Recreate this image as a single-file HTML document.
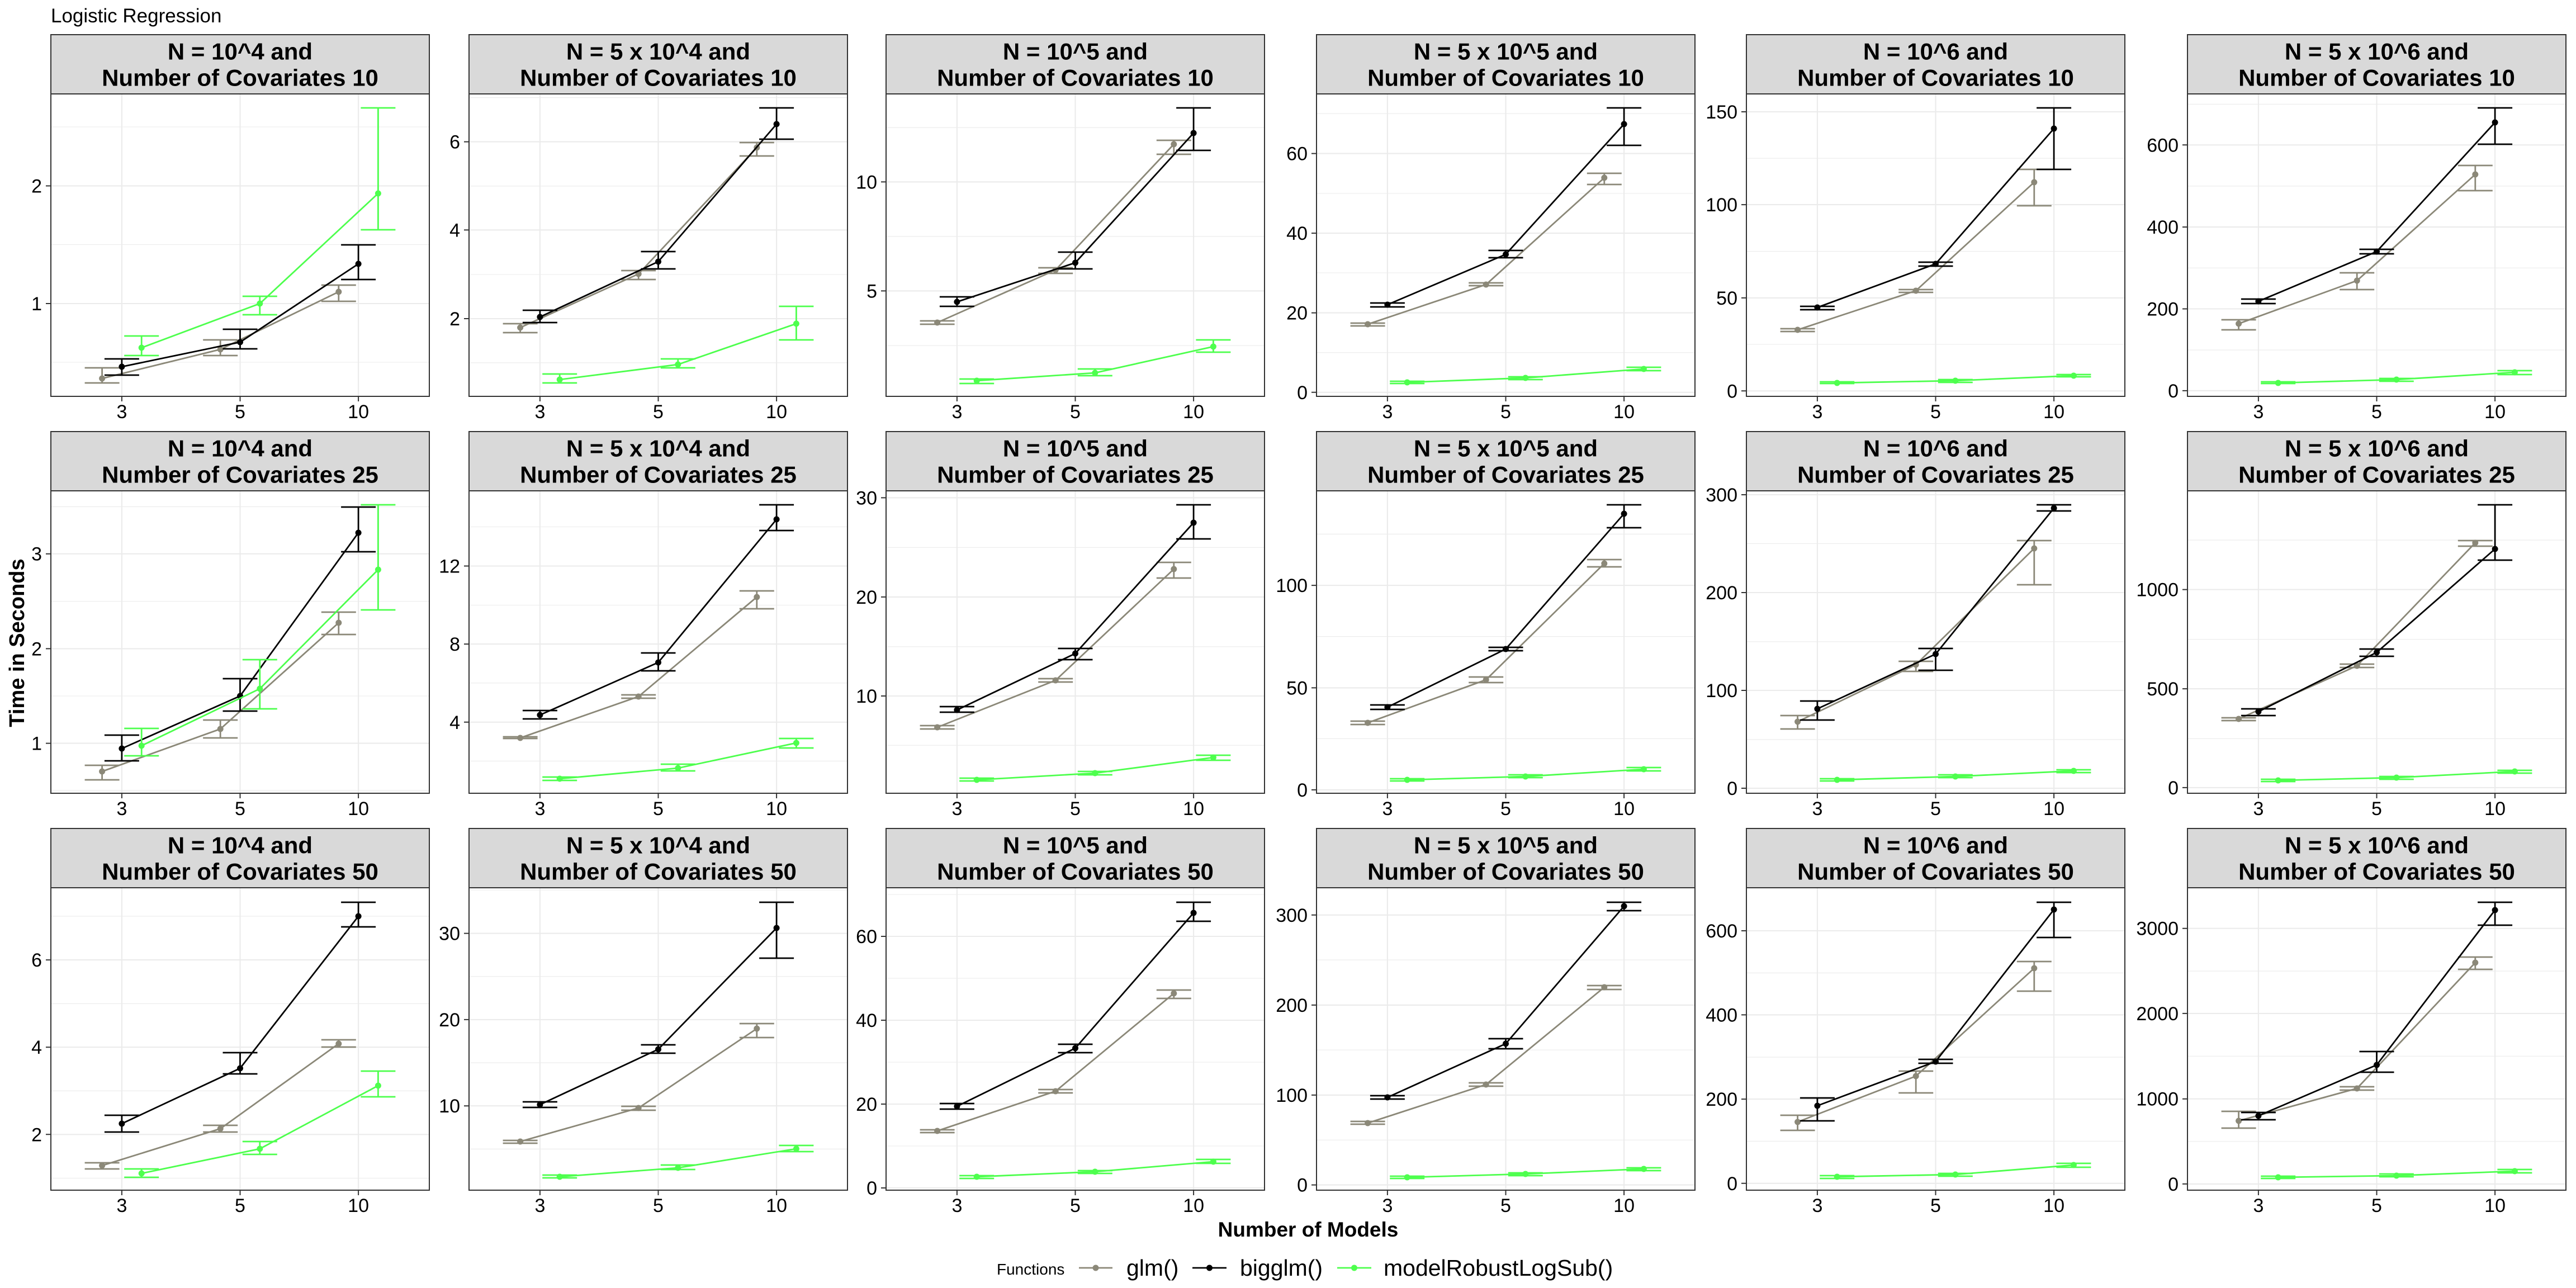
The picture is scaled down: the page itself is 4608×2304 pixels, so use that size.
<!DOCTYPE html>
<html><head><meta charset="utf-8"><style>
html,body{margin:0;padding:0;background:#fff;}
svg{display:block;font-family:"Liberation Sans",Arial,sans-serif;}
.mi{stroke:#ebebeb;stroke-width:1.1;fill:none}
.ma{stroke:#ebebeb;stroke-width:2.1;fill:none}
.bd{fill:none;stroke:#333;stroke-width:2}
.st{fill:#d9d9d9;stroke:#333;stroke-width:2}
.sx{font-size:42px;font-weight:bold;text-anchor:middle;fill:#000}
.tk{stroke:#333;stroke-width:2;fill:none}
.yl{font-size:34px;text-anchor:end;fill:#000}
.xl{font-size:34px;text-anchor:middle;fill:#000}
.g path{stroke:#8b8878;fill:none;stroke-width:2.8}.g circle{fill:#8b8878}
.k path{stroke:#000;fill:none;stroke-width:2.8}.k circle{fill:#000}
.n path{stroke:#4dff4d;fill:none;stroke-width:2.8}.n circle{fill:#4dff4d}
</style></head><body>
<svg width="4608" height="2304" viewBox="0 0 4608 2304" xmlns="http://www.w3.org/2000/svg">
<rect x="0" y="0" width="4608" height="2304" fill="#fff"/>
<text x="91" y="40" font-size="35" fill="#000">Logistic Regression</text>
<text transform="translate(43,1150) rotate(-90)" font-size="38" font-weight="bold" text-anchor="middle" fill="#000">Time in Seconds</text>
<text x="2340" y="2212" font-size="37" font-weight="bold" text-anchor="middle" fill="#000">Number of Models</text>

<!-- Legend -->
<text x="1783" y="2280" font-size="28" fill="#000">Functions</text>
<g class="g"><path d="M1930 2268H1990"/><circle cx="1960" cy="2268" r="5.5"/></g>
<text x="2015" y="2282" font-size="41" fill="#000">glm()</text>
<g class="k"><path d="M2133 2268H2194"/><circle cx="2163.5" cy="2268" r="5.5"/></g>
<text x="2218" y="2282" font-size="41" fill="#000">bigglm()</text>
<g class="n"><path d="M2392 2268H2453"/><circle cx="2422.5" cy="2268" r="5.5"/></g>
<text x="2475" y="2282" font-size="41" fill="#000">modelRobustLogSub()</text>

<!-- ROW 1 -->
<g transform="translate(91,0)">
<path class="mi" d="M0 227H677M0 437.5H677M0 648H677"/>
<path class="ma" d="M0 332.5H677M0 543H677M126.9 168V709M338.5 168V709M550.1 168V709"/>
<g class="g"><path d="M91.6 677L303.2 625L514.8 522"/><path d="M60.6 658H122.6M91.6 658V685M60.6 685H122.6M272.2 608H334.2M303.2 608V636M272.2 636H334.2M483.8 510H545.8M514.8 510V539M483.8 539H545.8"/><circle cx="91.6" cy="677" r="5.5"/><circle cx="303.2" cy="625" r="5.5"/><circle cx="514.8" cy="522" r="5.5"/></g>
<g class="k"><path d="M126.9 656L338.5 612L550.1 472"/><path d="M95.9 642H157.9M126.9 642V671M95.9 671H157.9M307.5 589H369.5M338.5 589V624M307.5 624H369.5M519.1 438H581.1M550.1 438V500M519.1 500H581.1"/><circle cx="126.9" cy="656" r="5.5"/><circle cx="338.5" cy="612" r="5.5"/><circle cx="550.1" cy="472" r="5.5"/></g>
<g class="n"><path d="M162.2 622L373.8 543L585.4 346"/><path d="M131.2 601H193.2M162.2 601V636M131.2 636H193.2M342.8 530H404.8M373.8 530V563M342.8 563H404.8M554.4 193H616.4M585.4 193V411M554.4 411H616.4"/><circle cx="162.2" cy="622" r="5.5"/><circle cx="373.8" cy="543" r="5.5"/><circle cx="585.4" cy="346" r="5.5"/></g>
<rect class="bd" x="0" y="168" width="677" height="541"/>
<rect class="st" x="0" y="62" width="677" height="106"/>
<text class="sx" x="338.5" y="106.6">N = 10^4 and</text>
<text class="sx" x="338.5" y="153.7">Number of Covariates 10</text>
<path class="tk" d="M-9 332.5H0M-9 543H0M126.9 709V718M338.5 709V718M550.1 709V718"/>
<text class="yl" x="-16" y="344.5">2</text><text class="yl" x="-16" y="555">1</text>
<text class="xl" x="126.9" y="748">3</text><text class="xl" x="338.5" y="748">5</text><text class="xl" x="550.1" y="748">10</text>
</g>

<g transform="translate(839,0)">
<path class="mi" d="M0 174.6H677M0 332.9H677M0 491H677M0 648.9H677"/>
<path class="ma" d="M0 253.6H677M0 411.4H677M0 570H677M126.9 168V709M338.5 168V709M550.1 168V709"/>
<g class="g"><path d="M91.6 586L303.2 490L514.8 264"/><path d="M60.6 579H122.6M91.6 579V595M60.6 595H122.6M272.2 484H334.2M303.2 484V500M272.2 500H334.2M483.8 255H545.8M514.8 255V279M483.8 279H545.8"/><circle cx="91.6" cy="586" r="5.5"/><circle cx="303.2" cy="490" r="5.5"/><circle cx="514.8" cy="264" r="5.5"/></g>
<g class="k"><path d="M126.9 567L338.5 468L550.1 222"/><path d="M95.9 555H157.9M126.9 555V577M95.9 577H157.9M307.5 450H369.5M338.5 450V481M307.5 481H369.5M519.1 193H581.1M550.1 193V249M519.1 249H581.1"/><circle cx="126.9" cy="567" r="5.5"/><circle cx="338.5" cy="468" r="5.5"/><circle cx="550.1" cy="222" r="5.5"/></g>
<g class="n"><path d="M162.2 679L373.8 652L585.4 579"/><path d="M131.2 669H193.2M162.2 669V685M131.2 685H193.2M342.8 642H404.8M373.8 642V658M342.8 658H404.8M554.4 548H616.4M585.4 548V608M554.4 608H616.4"/><circle cx="162.2" cy="679" r="5.5"/><circle cx="373.8" cy="652" r="5.5"/><circle cx="585.4" cy="579" r="5.5"/></g>
<rect class="bd" x="0" y="168" width="677" height="541"/>
<rect class="st" x="0" y="62" width="677" height="106"/>
<text class="sx" x="338.5" y="106.6">N = 5 x 10^4 and</text>
<text class="sx" x="338.5" y="153.7">Number of Covariates 10</text>
<path class="tk" d="M-9 253.6H0M-9 411.4H0M-9 570H0M126.9 709V718M338.5 709V718M550.1 709V718"/>
<text class="yl" x="-16" y="265.6">6</text><text class="yl" x="-16" y="423.4">4</text><text class="yl" x="-16" y="582">2</text>
<text class="xl" x="126.9" y="748">3</text><text class="xl" x="338.5" y="748">5</text><text class="xl" x="550.1" y="748">10</text>
</g>

<g transform="translate(1585,0)">
<path class="mi" d="M0 228.2H677M0 422.9H677M0 618.2H677"/>
<path class="ma" d="M0 325.4H677M0 520.4H677M126.9 168V709M338.5 168V709M550.1 168V709"/>
<g class="g"><path d="M91.6 577L303.2 483L514.8 258"/><path d="M60.6 574H122.6M91.6 574V580M60.6 580H122.6M272.2 479H334.2M303.2 479V489M272.2 489H334.2M483.8 251H545.8M514.8 251V276M483.8 276H545.8"/><circle cx="91.6" cy="577" r="5.5"/><circle cx="303.2" cy="483" r="5.5"/><circle cx="514.8" cy="258" r="5.5"/></g>
<g class="k"><path d="M126.9 540L338.5 470L550.1 238"/><path d="M95.9 531H157.9M126.9 531V548M95.9 548H157.9M307.5 451H369.5M338.5 451V481M307.5 481H369.5M519.1 193H581.1M550.1 193V269M519.1 269H581.1"/><circle cx="126.9" cy="540" r="5.5"/><circle cx="338.5" cy="470" r="5.5"/><circle cx="550.1" cy="238" r="5.5"/></g>
<g class="n"><path d="M162.2 681L373.8 667L585.4 620"/><path d="M131.2 678H193.2M162.2 678V686M131.2 686H193.2M342.8 660H404.8M373.8 660V672M342.8 672H404.8M554.4 608H616.4M585.4 608V630M554.4 630H616.4"/><circle cx="162.2" cy="681" r="5.5"/><circle cx="373.8" cy="667" r="5.5"/><circle cx="585.4" cy="620" r="5.5"/></g>
<rect class="bd" x="0" y="168" width="677" height="541"/>
<rect class="st" x="0" y="62" width="677" height="106"/>
<text class="sx" x="338.5" y="106.6">N = 10^5 and</text>
<text class="sx" x="338.5" y="153.7">Number of Covariates 10</text>
<path class="tk" d="M-9 325.4H0M-9 520.4H0M126.9 709V718M338.5 709V718M550.1 709V718"/>
<text class="yl" x="-16" y="337.4">10</text><text class="yl" x="-16" y="532.4">5</text>
<text class="xl" x="126.9" y="748">3</text><text class="xl" x="338.5" y="748">5</text><text class="xl" x="550.1" y="748">10</text>
</g>

<g transform="translate(2355,0)">
<path class="mi" d="M0 203.2H677M0 346H677M0 488H677M0 630.7H677"/>
<path class="ma" d="M0 274.6H677M0 417.1H677M0 559.6H677M0 701.8H677M126.9 168V709M338.5 168V709M550.1 168V709"/>
<g class="g"><path d="M91.6 580L303.2 509L514.8 318"/><path d="M60.6 578H122.6M91.6 578V583M60.6 583H122.6M272.2 506H334.2M303.2 506V511M272.2 511H334.2M483.8 310H545.8M514.8 310V330M483.8 330H545.8"/><circle cx="91.6" cy="580" r="5.5"/><circle cx="303.2" cy="509" r="5.5"/><circle cx="514.8" cy="318" r="5.5"/></g>
<g class="k"><path d="M126.9 545L338.5 455L550.1 222"/><path d="M95.9 542H157.9M126.9 542V549M95.9 549H157.9M307.5 448H369.5M338.5 448V461M307.5 461H369.5M519.1 193H581.1M550.1 193V260M519.1 260H581.1"/><circle cx="126.9" cy="545" r="5.5"/><circle cx="338.5" cy="455" r="5.5"/><circle cx="550.1" cy="222" r="5.5"/></g>
<g class="n"><path d="M162.2 684L373.8 676L585.4 660"/><path d="M131.2 682H193.2M162.2 682V686M131.2 686H193.2M342.8 674H404.8M373.8 674V679M342.8 679H404.8M554.4 657H616.4M585.4 657V663M554.4 663H616.4"/><circle cx="162.2" cy="684" r="5.5"/><circle cx="373.8" cy="676" r="5.5"/><circle cx="585.4" cy="660" r="5.5"/></g>
<rect class="bd" x="0" y="168" width="677" height="541"/>
<rect class="st" x="0" y="62" width="677" height="106"/>
<text class="sx" x="338.5" y="106.6">N = 5 x 10^5 and</text>
<text class="sx" x="338.5" y="153.7">Number of Covariates 10</text>
<path class="tk" d="M-9 274.6H0M-9 417.1H0M-9 559.6H0M-9 701.8H0M126.9 709V718M338.5 709V718M550.1 709V718"/>
<text class="yl" x="-16" y="286.6">60</text><text class="yl" x="-16" y="429.1">40</text><text class="yl" x="-16" y="571.6">20</text><text class="yl" x="-16" y="713.8">0</text>
<text class="xl" x="126.9" y="748">3</text><text class="xl" x="338.5" y="748">5</text><text class="xl" x="550.1" y="748">10</text>
</g>

<g transform="translate(3124,0)">
<path class="mi" d="M0 283.2H677M0 449.6H677M0 616H677"/>
<path class="ma" d="M0 200H677M0 366.1H677M0 532.9H677M0 699.3H677M126.9 168V709M338.5 168V709M550.1 168V709"/>
<g class="g"><path d="M91.6 590L303.2 520L514.8 326"/><path d="M60.6 588H122.6M91.6 588V593M60.6 593H122.6M272.2 518H334.2M303.2 518V523M272.2 523H334.2M483.8 303H545.8M514.8 303V368M483.8 368H545.8"/><circle cx="91.6" cy="590" r="5.5"/><circle cx="303.2" cy="520" r="5.5"/><circle cx="514.8" cy="326" r="5.5"/></g>
<g class="k"><path d="M126.9 550L338.5 472L550.1 230"/><path d="M95.9 548H157.9M126.9 548V554M95.9 554H157.9M307.5 469H369.5M338.5 469V476M307.5 476H369.5M519.1 193H581.1M550.1 193V303M519.1 303H581.1"/><circle cx="126.9" cy="550" r="5.5"/><circle cx="338.5" cy="472" r="5.5"/><circle cx="550.1" cy="230" r="5.5"/></g>
<g class="n"><path d="M162.2 685L373.8 681L585.4 672"/><path d="M131.2 683H193.2M162.2 683V686M131.2 686H193.2M342.8 679H404.8M373.8 679V684M342.8 684H404.8M554.4 670H616.4M585.4 670V674M554.4 674H616.4"/><circle cx="162.2" cy="685" r="5.5"/><circle cx="373.8" cy="681" r="5.5"/><circle cx="585.4" cy="672" r="5.5"/></g>
<rect class="bd" x="0" y="168" width="677" height="541"/>
<rect class="st" x="0" y="62" width="677" height="106"/>
<text class="sx" x="338.5" y="106.6">N = 10^6 and</text>
<text class="sx" x="338.5" y="153.7">Number of Covariates 10</text>
<path class="tk" d="M-9 200H0M-9 366.1H0M-9 532.9H0M-9 699.3H0M126.9 709V718M338.5 709V718M550.1 709V718"/>
<text class="yl" x="-16" y="212">150</text><text class="yl" x="-16" y="378.1">100</text><text class="yl" x="-16" y="544.9">50</text><text class="yl" x="-16" y="711.3">0</text>
<text class="xl" x="126.9" y="748">3</text><text class="xl" x="338.5" y="748">5</text><text class="xl" x="550.1" y="748">10</text>
</g>

<g transform="translate(3913,0)">
<path class="mi" d="M0 186.4H677M0 332.9H677M0 479.3H677M0 626.1H677"/>
<path class="ma" d="M0 259.3H677M0 406.1H677M0 552.5H677M0 698.9H677M126.9 168V709M338.5 168V709M550.1 168V709"/>
<g class="g"><path d="M91.6 579L303.2 502L514.8 312"/><path d="M60.6 572H122.6M91.6 572V590M60.6 590H122.6M272.2 488H334.2M303.2 488V518M272.2 518H334.2M483.8 296H545.8M514.8 296V341M483.8 341H545.8"/><circle cx="91.6" cy="579" r="5.5"/><circle cx="303.2" cy="502" r="5.5"/><circle cx="514.8" cy="312" r="5.5"/></g>
<g class="k"><path d="M126.9 539L338.5 450L550.1 219"/><path d="M95.9 535H157.9M126.9 535V543M95.9 543H157.9M307.5 446H369.5M338.5 446V454M307.5 454H369.5M519.1 193H581.1M550.1 193V258M519.1 258H581.1"/><circle cx="126.9" cy="539" r="5.5"/><circle cx="338.5" cy="450" r="5.5"/><circle cx="550.1" cy="219" r="5.5"/></g>
<g class="n"><path d="M162.2 685L373.8 679L585.4 666"/><path d="M131.2 683H193.2M162.2 683V686M131.2 686H193.2M342.8 677H404.8M373.8 677V682M342.8 682H404.8M554.4 663H616.4M585.4 663V670M554.4 670H616.4"/><circle cx="162.2" cy="685" r="5.5"/><circle cx="373.8" cy="679" r="5.5"/><circle cx="585.4" cy="666" r="5.5"/></g>
<rect class="bd" x="0" y="168" width="677" height="541"/>
<rect class="st" x="0" y="62" width="677" height="106"/>
<text class="sx" x="338.5" y="106.6">N = 5 x 10^6 and</text>
<text class="sx" x="338.5" y="153.7">Number of Covariates 10</text>
<path class="tk" d="M-9 259.3H0M-9 406.1H0M-9 552.5H0M-9 698.9H0M126.9 709V718M338.5 709V718M550.1 709V718"/>
<text class="yl" x="-16" y="271.3">600</text><text class="yl" x="-16" y="418.1">400</text><text class="yl" x="-16" y="564.5">200</text><text class="yl" x="-16" y="710.9">0</text>
<text class="xl" x="126.9" y="748">3</text><text class="xl" x="338.5" y="748">5</text><text class="xl" x="550.1" y="748">10</text>
</g>

<!-- ROW 2 -->
<g transform="translate(91,0)">
<path class="mi" d="M0 906.4H677M0 1075.7H677M0 1245H677M0 1413.9H677"/>
<path class="ma" d="M0 990.7H677M0 1160.4H677M0 1329.6H677M126.9 878V1419M338.5 878V1419M550.1 878V1419"/>
<g class="g"><path d="M91.6 1380L303.2 1304L514.8 1114"/><path d="M60.6 1369H122.6M91.6 1369V1395M60.6 1395H122.6M272.2 1288H334.2M303.2 1288V1320M272.2 1320H334.2M483.8 1095H545.8M514.8 1095V1135M483.8 1135H545.8"/><circle cx="91.6" cy="1380" r="5.5"/><circle cx="303.2" cy="1304" r="5.5"/><circle cx="514.8" cy="1114" r="5.5"/></g>
<g class="k"><path d="M126.9 1339L338.5 1245L550.1 953"/><path d="M95.9 1315H157.9M126.9 1315V1361M95.9 1361H157.9M307.5 1214H369.5M338.5 1214V1272M307.5 1272H369.5M519.1 907H581.1M550.1 907V987M519.1 987H581.1"/><circle cx="126.9" cy="1339" r="5.5"/><circle cx="338.5" cy="1245" r="5.5"/><circle cx="550.1" cy="953" r="5.5"/></g>
<g class="n"><path d="M162.2 1334L373.8 1232L585.4 1019"/><path d="M131.2 1303H193.2M162.2 1303V1352M131.2 1352H193.2M342.8 1180H404.8M373.8 1180V1268M342.8 1268H404.8M554.4 903H616.4M585.4 903V1091M554.4 1091H616.4"/><circle cx="162.2" cy="1334" r="5.5"/><circle cx="373.8" cy="1232" r="5.5"/><circle cx="585.4" cy="1019" r="5.5"/></g>
<rect class="bd" x="0" y="878" width="677" height="541"/>
<rect class="st" x="0" y="772" width="677" height="106"/>
<text class="sx" x="338.5" y="816.6">N = 10^4 and</text>
<text class="sx" x="338.5" y="863.7">Number of Covariates 25</text>
<path class="tk" d="M-9 990.7H0M-9 1160.4H0M-9 1329.6H0M126.9 1419V1428M338.5 1419V1428M550.1 1419V1428"/>
<text class="yl" x="-16" y="1002.7">3</text><text class="yl" x="-16" y="1172.4">2</text><text class="yl" x="-16" y="1341.6">1</text>
<text class="xl" x="126.9" y="1458">3</text><text class="xl" x="338.5" y="1458">5</text><text class="xl" x="550.1" y="1458">10</text>
</g>

<g transform="translate(839,0)">
<path class="mi" d="M0 942.5H677M0 1082.5H677M0 1221.8H677M0 1361.4H677"/>
<path class="ma" d="M0 1012.5H677M0 1152.1H677M0 1291.8H677M126.9 878V1419M338.5 878V1419M550.1 878V1419"/>
<g class="g"><path d="M91.6 1320L303.2 1246L514.8 1068"/><path d="M60.6 1318H122.6M91.6 1318V1321M60.6 1321H122.6M272.2 1243H334.2M303.2 1243V1249M272.2 1249H334.2M483.8 1057H545.8M514.8 1057V1089M483.8 1089H545.8"/><circle cx="91.6" cy="1320" r="5.5"/><circle cx="303.2" cy="1246" r="5.5"/><circle cx="514.8" cy="1068" r="5.5"/></g>
<g class="k"><path d="M126.9 1279L338.5 1185L550.1 929"/><path d="M95.9 1271H157.9M126.9 1271V1286M95.9 1286H157.9M307.5 1168H369.5M338.5 1168V1200M307.5 1200H369.5M519.1 903H581.1M550.1 903V949M519.1 949H581.1"/><circle cx="126.9" cy="1279" r="5.5"/><circle cx="338.5" cy="1185" r="5.5"/><circle cx="550.1" cy="929" r="5.5"/></g>
<g class="n"><path d="M162.2 1393L373.8 1374L585.4 1329"/><path d="M131.2 1390H193.2M162.2 1390V1396M131.2 1396H193.2M342.8 1367H404.8M373.8 1367V1379M342.8 1379H404.8M554.4 1321H616.4M585.4 1321V1338M554.4 1338H616.4"/><circle cx="162.2" cy="1393" r="5.5"/><circle cx="373.8" cy="1374" r="5.5"/><circle cx="585.4" cy="1329" r="5.5"/></g>
<rect class="bd" x="0" y="878" width="677" height="541"/>
<rect class="st" x="0" y="772" width="677" height="106"/>
<text class="sx" x="338.5" y="816.6">N = 5 x 10^4 and</text>
<text class="sx" x="338.5" y="863.7">Number of Covariates 25</text>
<path class="tk" d="M-9 1012.5H0M-9 1152.1H0M-9 1291.8H0M126.9 1419V1428M338.5 1419V1428M550.1 1419V1428"/>
<text class="yl" x="-16" y="1024.5">12</text><text class="yl" x="-16" y="1164.1">8</text><text class="yl" x="-16" y="1303.8">4</text>
<text class="xl" x="126.9" y="1458">3</text><text class="xl" x="338.5" y="1458">5</text><text class="xl" x="550.1" y="1458">10</text>
</g>

<g transform="translate(1585,0)">
<path class="mi" d="M0 979.3H677M0 1156.8H677M0 1333.2H677"/>
<path class="ma" d="M0 890.4H677M0 1067.9H677M0 1245H677M126.9 878V1419M338.5 878V1419M550.1 878V1419"/>
<g class="g"><path d="M91.6 1301L303.2 1217L514.8 1018"/><path d="M60.6 1298H122.6M91.6 1298V1304M60.6 1304H122.6M272.2 1214H334.2M303.2 1214V1220M272.2 1220H334.2M483.8 1006H545.8M514.8 1006V1034M483.8 1034H545.8"/><circle cx="91.6" cy="1301" r="5.5"/><circle cx="303.2" cy="1217" r="5.5"/><circle cx="514.8" cy="1018" r="5.5"/></g>
<g class="k"><path d="M126.9 1270L338.5 1169L550.1 935"/><path d="M95.9 1264H157.9M126.9 1264V1274M95.9 1274H157.9M307.5 1160H369.5M338.5 1160V1180M307.5 1180H369.5M519.1 903H581.1M550.1 903V964M519.1 964H581.1"/><circle cx="126.9" cy="1270" r="5.5"/><circle cx="338.5" cy="1169" r="5.5"/><circle cx="550.1" cy="935" r="5.5"/></g>
<g class="n"><path d="M162.2 1395L373.8 1383L585.4 1355"/><path d="M131.2 1392H193.2M162.2 1392V1397M131.2 1397H193.2M342.8 1380H404.8M373.8 1380V1386M342.8 1386H404.8M554.4 1351H616.4M585.4 1351V1360M554.4 1360H616.4"/><circle cx="162.2" cy="1395" r="5.5"/><circle cx="373.8" cy="1383" r="5.5"/><circle cx="585.4" cy="1355" r="5.5"/></g>
<rect class="bd" x="0" y="878" width="677" height="541"/>
<rect class="st" x="0" y="772" width="677" height="106"/>
<text class="sx" x="338.5" y="816.6">N = 10^5 and</text>
<text class="sx" x="338.5" y="863.7">Number of Covariates 25</text>
<path class="tk" d="M-9 890.4H0M-9 1067.9H0M-9 1245H0M126.9 1419V1428M338.5 1419V1428M550.1 1419V1428"/>
<text class="yl" x="-16" y="902.4">30</text><text class="yl" x="-16" y="1079.9">20</text><text class="yl" x="-16" y="1257">10</text>
<text class="xl" x="126.9" y="1458">3</text><text class="xl" x="338.5" y="1458">5</text><text class="xl" x="550.1" y="1458">10</text>
</g>

<g transform="translate(2355,0)">
<path class="mi" d="M0 955.4H677M0 1138.6H677M0 1321.4H677"/>
<path class="ma" d="M0 1047.1H677M0 1230.4H677M0 1412.9H677M126.9 878V1419M338.5 878V1419M550.1 878V1419"/>
<g class="g"><path d="M91.6 1293L303.2 1216L514.8 1008"/><path d="M60.6 1290H122.6M91.6 1290V1296M60.6 1296H122.6M272.2 1211H334.2M303.2 1211V1221M272.2 1221H334.2M483.8 1001H545.8M514.8 1001V1014M483.8 1014H545.8"/><circle cx="91.6" cy="1293" r="5.5"/><circle cx="303.2" cy="1216" r="5.5"/><circle cx="514.8" cy="1008" r="5.5"/></g>
<g class="k"><path d="M126.9 1265L338.5 1161L550.1 919"/><path d="M95.9 1261H157.9M126.9 1261V1269M95.9 1269H157.9M307.5 1158H369.5M338.5 1158V1164M307.5 1164H369.5M519.1 903H581.1M550.1 903V944M519.1 944H581.1"/><circle cx="126.9" cy="1265" r="5.5"/><circle cx="338.5" cy="1161" r="5.5"/><circle cx="550.1" cy="919" r="5.5"/></g>
<g class="n"><path d="M162.2 1395L373.8 1389L585.4 1376"/><path d="M131.2 1393H193.2M162.2 1393V1397M131.2 1397H193.2M342.8 1386H404.8M373.8 1386V1391M342.8 1391H404.8M554.4 1373H616.4M585.4 1373V1379M554.4 1379H616.4"/><circle cx="162.2" cy="1395" r="5.5"/><circle cx="373.8" cy="1389" r="5.5"/><circle cx="585.4" cy="1376" r="5.5"/></g>
<rect class="bd" x="0" y="878" width="677" height="541"/>
<rect class="st" x="0" y="772" width="677" height="106"/>
<text class="sx" x="338.5" y="816.6">N = 5 x 10^5 and</text>
<text class="sx" x="338.5" y="863.7">Number of Covariates 25</text>
<path class="tk" d="M-9 1047.1H0M-9 1230.4H0M-9 1412.9H0M126.9 1419V1428M338.5 1419V1428M550.1 1419V1428"/>
<text class="yl" x="-16" y="1059.1">100</text><text class="yl" x="-16" y="1242.4">50</text><text class="yl" x="-16" y="1424.9">0</text>
<text class="xl" x="126.9" y="1458">3</text><text class="xl" x="338.5" y="1458">5</text><text class="xl" x="550.1" y="1458">10</text>
</g>

<g transform="translate(3124,0)">
<path class="mi" d="M0 972.5H677M0 1147.9H677M0 1322.9H677"/>
<path class="ma" d="M0 885H677M0 1060H677M0 1235H677M0 1410H677M126.9 878V1419M338.5 878V1419M550.1 878V1419"/>
<g class="g"><path d="M91.6 1291L303.2 1189L514.8 981"/><path d="M60.6 1280H122.6M91.6 1280V1304M60.6 1304H122.6M272.2 1183H334.2M303.2 1183V1201M272.2 1201H334.2M483.8 967H545.8M514.8 967V1046M483.8 1046H545.8"/><circle cx="91.6" cy="1291" r="5.5"/><circle cx="303.2" cy="1189" r="5.5"/><circle cx="514.8" cy="981" r="5.5"/></g>
<g class="k"><path d="M126.9 1268L338.5 1170L550.1 909"/><path d="M95.9 1254H157.9M126.9 1254V1288M95.9 1288H157.9M307.5 1160H369.5M338.5 1160V1199M307.5 1199H369.5M519.1 903H581.1M550.1 903V914M519.1 914H581.1"/><circle cx="126.9" cy="1268" r="5.5"/><circle cx="338.5" cy="1170" r="5.5"/><circle cx="550.1" cy="909" r="5.5"/></g>
<g class="n"><path d="M162.2 1395L373.8 1389L585.4 1379"/><path d="M131.2 1393H193.2M162.2 1393V1397M131.2 1397H193.2M342.8 1386H404.8M373.8 1386V1391M342.8 1391H404.8M554.4 1377H616.4M585.4 1377V1382M554.4 1382H616.4"/><circle cx="162.2" cy="1395" r="5.5"/><circle cx="373.8" cy="1389" r="5.5"/><circle cx="585.4" cy="1379" r="5.5"/></g>
<rect class="bd" x="0" y="878" width="677" height="541"/>
<rect class="st" x="0" y="772" width="677" height="106"/>
<text class="sx" x="338.5" y="816.6">N = 10^6 and</text>
<text class="sx" x="338.5" y="863.7">Number of Covariates 25</text>
<path class="tk" d="M-9 885H0M-9 1060H0M-9 1235H0M-9 1410H0M126.9 1419V1428M338.5 1419V1428M550.1 1419V1428"/>
<text class="yl" x="-16" y="897">300</text><text class="yl" x="-16" y="1072">200</text><text class="yl" x="-16" y="1247">100</text><text class="yl" x="-16" y="1422">0</text>
<text class="xl" x="126.9" y="1458">3</text><text class="xl" x="338.5" y="1458">5</text><text class="xl" x="550.1" y="1458">10</text>
</g>

<g transform="translate(3913,0)">
<path class="mi" d="M0 966.1H677M0 1143.6H677M0 1321.4H677"/>
<path class="ma" d="M0 1054.6H677M0 1232.1H677M0 1408.9H677M126.9 878V1419M338.5 878V1419M550.1 878V1419"/>
<g class="g"><path d="M91.6 1286L303.2 1191L514.8 971"/><path d="M60.6 1284H122.6M91.6 1284V1289M60.6 1289H122.6M272.2 1188H334.2M303.2 1188V1194M272.2 1194H334.2M483.8 967H545.8M514.8 967V977M483.8 977H545.8"/><circle cx="91.6" cy="1286" r="5.5"/><circle cx="303.2" cy="1191" r="5.5"/><circle cx="514.8" cy="971" r="5.5"/></g>
<g class="k"><path d="M126.9 1273L338.5 1167L550.1 982"/><path d="M95.9 1268H157.9M126.9 1268V1280M95.9 1280H157.9M307.5 1161H369.5M338.5 1161V1174M307.5 1174H369.5M519.1 903H581.1M550.1 903V1002M519.1 1002H581.1"/><circle cx="126.9" cy="1273" r="5.5"/><circle cx="338.5" cy="1167" r="5.5"/><circle cx="550.1" cy="982" r="5.5"/></g>
<g class="n"><path d="M162.2 1396L373.8 1391L585.4 1380"/><path d="M131.2 1394H193.2M162.2 1394V1398M131.2 1398H193.2M342.8 1389H404.8M373.8 1389V1394M342.8 1394H404.8M554.4 1378H616.4M585.4 1378V1383M554.4 1383H616.4"/><circle cx="162.2" cy="1396" r="5.5"/><circle cx="373.8" cy="1391" r="5.5"/><circle cx="585.4" cy="1380" r="5.5"/></g>
<rect class="bd" x="0" y="878" width="677" height="541"/>
<rect class="st" x="0" y="772" width="677" height="106"/>
<text class="sx" x="338.5" y="816.6">N = 5 x 10^6 and</text>
<text class="sx" x="338.5" y="863.7">Number of Covariates 25</text>
<path class="tk" d="M-9 1054.6H0M-9 1232.1H0M-9 1408.9H0M126.9 1419V1428M338.5 1419V1428M550.1 1419V1428"/>
<text class="yl" x="-16" y="1066.6">1000</text><text class="yl" x="-16" y="1244.1">500</text><text class="yl" x="-16" y="1420.9">0</text>
<text class="xl" x="126.9" y="1458">3</text><text class="xl" x="338.5" y="1458">5</text><text class="xl" x="550.1" y="1458">10</text>
</g>

<!-- ROW 3 -->
<g transform="translate(91,0)">
<path class="mi" d="M0 1638.9H677M0 1795.4H677M0 1951.4H677M0 2107.5H677"/>
<path class="ma" d="M0 1717.1H677M0 1873.2H677M0 2029.3H677M126.9 1588V2129M338.5 1588V2129M550.1 1588V2129"/>
<g class="g"><path d="M91.6 2085L303.2 2019L514.8 1867"/><path d="M60.6 2080H122.6M91.6 2080V2091M60.6 2091H122.6M272.2 2013H334.2M303.2 2013V2025M272.2 2025H334.2M483.8 1860H545.8M514.8 1860V1873M483.8 1873H545.8"/><circle cx="91.6" cy="2085" r="5.5"/><circle cx="303.2" cy="2019" r="5.5"/><circle cx="514.8" cy="1867" r="5.5"/></g>
<g class="k"><path d="M126.9 2010L338.5 1911L550.1 1639"/><path d="M95.9 1995H157.9M126.9 1995V2025M95.9 2025H157.9M307.5 1883H369.5M338.5 1883V1921M307.5 1921H369.5M519.1 1614H581.1M550.1 1614V1658M519.1 1658H581.1"/><circle cx="126.9" cy="2010" r="5.5"/><circle cx="338.5" cy="1911" r="5.5"/><circle cx="550.1" cy="1639" r="5.5"/></g>
<g class="n"><path d="M162.2 2099L373.8 2055L585.4 1942"/><path d="M131.2 2091H193.2M162.2 2091V2106M131.2 2106H193.2M342.8 2042H404.8M373.8 2042V2065M342.8 2065H404.8M554.4 1916H616.4M585.4 1916V1962M554.4 1962H616.4"/><circle cx="162.2" cy="2099" r="5.5"/><circle cx="373.8" cy="2055" r="5.5"/><circle cx="585.4" cy="1942" r="5.5"/></g>
<rect class="bd" x="0" y="1588" width="677" height="541"/>
<rect class="st" x="0" y="1482" width="677" height="106"/>
<text class="sx" x="338.5" y="1526.6">N = 10^4 and</text>
<text class="sx" x="338.5" y="1573.7">Number of Covariates 50</text>
<path class="tk" d="M-9 1717.1H0M-9 1873.2H0M-9 2029.3H0M126.9 2129V2138M338.5 2129V2138M550.1 2129V2138"/>
<text class="yl" x="-16" y="1729.1">6</text><text class="yl" x="-16" y="1885.2">4</text><text class="yl" x="-16" y="2041.3">2</text>
<text class="xl" x="126.9" y="2168">3</text><text class="xl" x="338.5" y="2168">5</text><text class="xl" x="550.1" y="2168">10</text>
</g>

<g transform="translate(839,0)">
<path class="mi" d="M0 1592.1H677M0 1746.8H677M0 1901.1H677M0 2055.4H677"/>
<path class="ma" d="M0 1669.6H677M0 1823.9H677M0 1978.2H677M126.9 1588V2129M338.5 1588V2129M550.1 1588V2129"/>
<g class="g"><path d="M91.6 2042L303.2 1982L514.8 1840"/><path d="M60.6 2040H122.6M91.6 2040V2045M60.6 2045H122.6M272.2 1979H334.2M303.2 1979V1986M272.2 1986H334.2M483.8 1831H545.8M514.8 1831V1856M483.8 1856H545.8"/><circle cx="91.6" cy="2042" r="5.5"/><circle cx="303.2" cy="1982" r="5.5"/><circle cx="514.8" cy="1840" r="5.5"/></g>
<g class="k"><path d="M126.9 1976L338.5 1877L550.1 1660"/><path d="M95.9 1971H157.9M126.9 1971V1981M95.9 1981H157.9M307.5 1869H369.5M338.5 1869V1884M307.5 1884H369.5M519.1 1614H581.1M550.1 1614V1714M519.1 1714H581.1"/><circle cx="126.9" cy="1976" r="5.5"/><circle cx="338.5" cy="1877" r="5.5"/><circle cx="550.1" cy="1660" r="5.5"/></g>
<g class="n"><path d="M162.2 2105L373.8 2089L585.4 2055"/><path d="M131.2 2102H193.2M162.2 2102V2107M131.2 2107H193.2M342.8 2084H404.8M373.8 2084V2092M342.8 2092H404.8M554.4 2049H616.4M585.4 2049V2060M554.4 2060H616.4"/><circle cx="162.2" cy="2105" r="5.5"/><circle cx="373.8" cy="2089" r="5.5"/><circle cx="585.4" cy="2055" r="5.5"/></g>
<rect class="bd" x="0" y="1588" width="677" height="541"/>
<rect class="st" x="0" y="1482" width="677" height="106"/>
<text class="sx" x="338.5" y="1526.6">N = 5 x 10^4 and</text>
<text class="sx" x="338.5" y="1573.7">Number of Covariates 50</text>
<path class="tk" d="M-9 1669.6H0M-9 1823.9H0M-9 1978.2H0M126.9 2129V2138M338.5 2129V2138M550.1 2129V2138"/>
<text class="yl" x="-16" y="1681.6">30</text><text class="yl" x="-16" y="1835.9">20</text><text class="yl" x="-16" y="1990.2">10</text>
<text class="xl" x="126.9" y="2168">3</text><text class="xl" x="338.5" y="2168">5</text><text class="xl" x="550.1" y="2168">10</text>
</g>

<g transform="translate(1585,0)">
<path class="mi" d="M0 1600H677M0 1750H677M0 1900H677M0 2050H677"/>
<path class="ma" d="M0 1675H677M0 1825H677M0 1975H677M0 2125H677M126.9 1588V2129M338.5 1588V2129M550.1 1588V2129"/>
<g class="g"><path d="M91.6 2023L303.2 1952L514.8 1777"/><path d="M60.6 2021H122.6M91.6 2021V2026M60.6 2026H122.6M272.2 1949H334.2M303.2 1949V1955M272.2 1955H334.2M483.8 1771H545.8M514.8 1771V1786M483.8 1786H545.8"/><circle cx="91.6" cy="2023" r="5.5"/><circle cx="303.2" cy="1952" r="5.5"/><circle cx="514.8" cy="1777" r="5.5"/></g>
<g class="k"><path d="M126.9 1979L338.5 1875L550.1 1633"/><path d="M95.9 1974H157.9M126.9 1974V1984M95.9 1984H157.9M307.5 1868H369.5M338.5 1868V1883M307.5 1883H369.5M519.1 1614H581.1M550.1 1614V1648M519.1 1648H581.1"/><circle cx="126.9" cy="1979" r="5.5"/><circle cx="338.5" cy="1875" r="5.5"/><circle cx="550.1" cy="1633" r="5.5"/></g>
<g class="n"><path d="M162.2 2105L373.8 2096L585.4 2078"/><path d="M131.2 2103H193.2M162.2 2103V2108M131.2 2108H193.2M342.8 2094H404.8M373.8 2094V2099M342.8 2099H404.8M554.4 2074H616.4M585.4 2074V2081M554.4 2081H616.4"/><circle cx="162.2" cy="2105" r="5.5"/><circle cx="373.8" cy="2096" r="5.5"/><circle cx="585.4" cy="2078" r="5.5"/></g>
<rect class="bd" x="0" y="1588" width="677" height="541"/>
<rect class="st" x="0" y="1482" width="677" height="106"/>
<text class="sx" x="338.5" y="1526.6">N = 10^5 and</text>
<text class="sx" x="338.5" y="1573.7">Number of Covariates 50</text>
<path class="tk" d="M-9 1675H0M-9 1825H0M-9 1975H0M-9 2125H0M126.9 2129V2138M338.5 2129V2138M550.1 2129V2138"/>
<text class="yl" x="-16" y="1687">60</text><text class="yl" x="-16" y="1837">40</text><text class="yl" x="-16" y="1987">20</text><text class="yl" x="-16" y="2137">0</text>
<text class="xl" x="126.9" y="2168">3</text><text class="xl" x="338.5" y="2168">5</text><text class="xl" x="550.1" y="2168">10</text>
</g>

<g transform="translate(2355,0)">
<path class="mi" d="M0 1717.1H677M0 1878.2H677M0 2039.3H677"/>
<path class="ma" d="M0 1636.8H677M0 1797.9H677M0 1958.9H677M0 2119.6H677M126.9 1588V2129M338.5 1588V2129M550.1 1588V2129"/>
<g class="g"><path d="M91.6 2009L303.2 1940L514.8 1766"/><path d="M60.6 2006H122.6M91.6 2006V2011M60.6 2011H122.6M272.2 1937H334.2M303.2 1937V1943M272.2 1943H334.2M483.8 1763H545.8M514.8 1763V1770M483.8 1770H545.8"/><circle cx="91.6" cy="2009" r="5.5"/><circle cx="303.2" cy="1940" r="5.5"/><circle cx="514.8" cy="1766" r="5.5"/></g>
<g class="k"><path d="M126.9 1963L338.5 1867L550.1 1621"/><path d="M95.9 1960H157.9M126.9 1960V1966M95.9 1966H157.9M307.5 1858H369.5M338.5 1858V1876M307.5 1876H369.5M519.1 1614H581.1M550.1 1614V1629M519.1 1629H581.1"/><circle cx="126.9" cy="1963" r="5.5"/><circle cx="338.5" cy="1867" r="5.5"/><circle cx="550.1" cy="1621" r="5.5"/></g>
<g class="n"><path d="M162.2 2106L373.8 2100L585.4 2091"/><path d="M131.2 2104H193.2M162.2 2104V2108M131.2 2108H193.2M342.8 2098H404.8M373.8 2098V2103M342.8 2103H404.8M554.4 2089H616.4M585.4 2089V2094M554.4 2094H616.4"/><circle cx="162.2" cy="2106" r="5.5"/><circle cx="373.8" cy="2100" r="5.5"/><circle cx="585.4" cy="2091" r="5.5"/></g>
<rect class="bd" x="0" y="1588" width="677" height="541"/>
<rect class="st" x="0" y="1482" width="677" height="106"/>
<text class="sx" x="338.5" y="1526.6">N = 5 x 10^5 and</text>
<text class="sx" x="338.5" y="1573.7">Number of Covariates 50</text>
<path class="tk" d="M-9 1636.8H0M-9 1797.9H0M-9 1958.9H0M-9 2119.6H0M126.9 2129V2138M338.5 2129V2138M550.1 2129V2138"/>
<text class="yl" x="-16" y="1648.8">300</text><text class="yl" x="-16" y="1809.9">200</text><text class="yl" x="-16" y="1970.9">100</text><text class="yl" x="-16" y="2131.6">0</text>
<text class="xl" x="126.9" y="2168">3</text><text class="xl" x="338.5" y="2168">5</text><text class="xl" x="550.1" y="2168">10</text>
</g>

<g transform="translate(3124,0)">
<path class="mi" d="M0 1740.4H677M0 1891.1H677M0 2041.4H677"/>
<path class="ma" d="M0 1665H677M0 1815.4H677M0 1966.1H677M0 2116.8H677M126.9 1588V2129M338.5 1588V2129M550.1 1588V2129"/>
<g class="g"><path d="M91.6 2007L303.2 1925L514.8 1732"/><path d="M60.6 1995H122.6M91.6 1995V2022M60.6 2022H122.6M272.2 1916H334.2M303.2 1916V1955M272.2 1955H334.2M483.8 1720H545.8M514.8 1720V1773M483.8 1773H545.8"/><circle cx="91.6" cy="2007" r="5.5"/><circle cx="303.2" cy="1925" r="5.5"/><circle cx="514.8" cy="1732" r="5.5"/></g>
<g class="k"><path d="M126.9 1978L338.5 1899L550.1 1627"/><path d="M95.9 1964H157.9M126.9 1964V2005M95.9 2005H157.9M307.5 1895H369.5M338.5 1895V1902M307.5 1902H369.5M519.1 1614H581.1M550.1 1614V1677M519.1 1677H581.1"/><circle cx="126.9" cy="1978" r="5.5"/><circle cx="338.5" cy="1899" r="5.5"/><circle cx="550.1" cy="1627" r="5.5"/></g>
<g class="n"><path d="M162.2 2105L373.8 2101L585.4 2084"/><path d="M131.2 2103H193.2M162.2 2103V2108M131.2 2108H193.2M342.8 2099H404.8M373.8 2099V2104M342.8 2104H404.8M554.4 2081H616.4M585.4 2081V2088M554.4 2088H616.4"/><circle cx="162.2" cy="2105" r="5.5"/><circle cx="373.8" cy="2101" r="5.5"/><circle cx="585.4" cy="2084" r="5.5"/></g>
<rect class="bd" x="0" y="1588" width="677" height="541"/>
<rect class="st" x="0" y="1482" width="677" height="106"/>
<text class="sx" x="338.5" y="1526.6">N = 10^6 and</text>
<text class="sx" x="338.5" y="1573.7">Number of Covariates 50</text>
<path class="tk" d="M-9 1665H0M-9 1815.4H0M-9 1966.1H0M-9 2116.8H0M126.9 2129V2138M338.5 2129V2138M550.1 2129V2138"/>
<text class="yl" x="-16" y="1677">600</text><text class="yl" x="-16" y="1827.4">400</text><text class="yl" x="-16" y="1978.1">200</text><text class="yl" x="-16" y="2128.8">0</text>
<text class="xl" x="126.9" y="2168">3</text><text class="xl" x="338.5" y="2168">5</text><text class="xl" x="550.1" y="2168">10</text>
</g>

<g transform="translate(3913,0)">
<path class="mi" d="M0 1737.1H677M0 1889.3H677M0 2041.8H677"/>
<path class="ma" d="M0 1660.7H677M0 1812.9H677M0 1965.7H677M0 2117.9H677M126.9 1588V2129M338.5 1588V2129M550.1 1588V2129"/>
<g class="g"><path d="M91.6 2005L303.2 1947L514.8 1722"/><path d="M60.6 1988H122.6M91.6 1988V2018M60.6 2018H122.6M272.2 1944H334.2M303.2 1944V1950M272.2 1950H334.2M483.8 1712H545.8M514.8 1712V1734M483.8 1734H545.8"/><circle cx="91.6" cy="2005" r="5.5"/><circle cx="303.2" cy="1947" r="5.5"/><circle cx="514.8" cy="1722" r="5.5"/></g>
<g class="k"><path d="M126.9 1996L338.5 1905L550.1 1628"/><path d="M95.9 1990H157.9M126.9 1990V2003M95.9 2003H157.9M307.5 1881H369.5M338.5 1881V1918M307.5 1918H369.5M519.1 1614H581.1M550.1 1614V1655M519.1 1655H581.1"/><circle cx="126.9" cy="1996" r="5.5"/><circle cx="338.5" cy="1905" r="5.5"/><circle cx="550.1" cy="1628" r="5.5"/></g>
<g class="n"><path d="M162.2 2106L373.8 2103L585.4 2095"/><path d="M131.2 2104H193.2M162.2 2104V2108M131.2 2108H193.2M342.8 2100H404.8M373.8 2100V2105M342.8 2105H404.8M554.4 2092H616.4M585.4 2092V2098M554.4 2098H616.4"/><circle cx="162.2" cy="2106" r="5.5"/><circle cx="373.8" cy="2103" r="5.5"/><circle cx="585.4" cy="2095" r="5.5"/></g>
<rect class="bd" x="0" y="1588" width="677" height="541"/>
<rect class="st" x="0" y="1482" width="677" height="106"/>
<text class="sx" x="338.5" y="1526.6">N = 5 x 10^6 and</text>
<text class="sx" x="338.5" y="1573.7">Number of Covariates 50</text>
<path class="tk" d="M-9 1660.7H0M-9 1812.9H0M-9 1965.7H0M-9 2117.9H0M126.9 2129V2138M338.5 2129V2138M550.1 2129V2138"/>
<text class="yl" x="-16" y="1672.7">3000</text><text class="yl" x="-16" y="1824.9">2000</text><text class="yl" x="-16" y="1977.7">1000</text><text class="yl" x="-16" y="2129.9">0</text>
<text class="xl" x="126.9" y="2168">3</text><text class="xl" x="338.5" y="2168">5</text><text class="xl" x="550.1" y="2168">10</text>
</g>
</svg>
</body></html>
